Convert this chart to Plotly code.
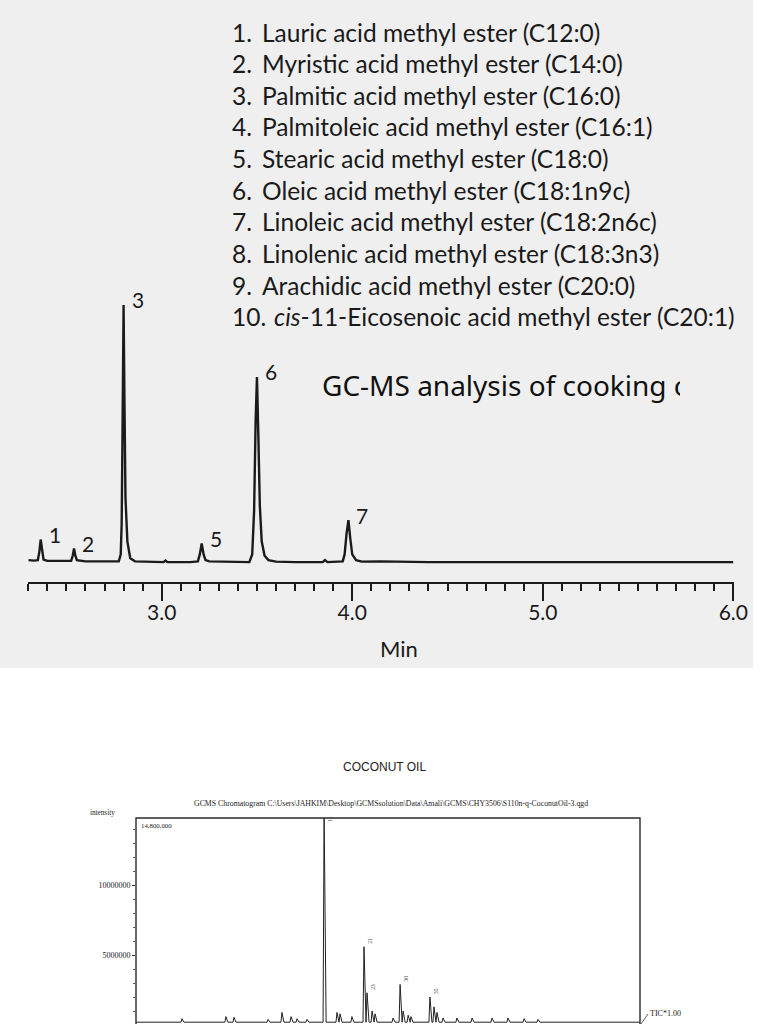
import plotly.graph_objects as go

W, H = 768, 1024
VIEW_W = 753  # width the page actually draws the figure at (window minus scrollbar)
def px(x): return x / VIEW_W
def py(y): return 1 - y / H

# ---------------- data: top chromatogram (FAME standard) ----------------
top_time = [2.300, 2.330, 2.350, 2.358, 2.365, 2.372, 2.380, 2.400, 2.500, 2.525, 2.533, 2.540,
            2.547, 2.555, 2.600, 2.760, 2.775, 2.785, 2.790, 2.795, 2.800, 2.805, 2.810, 2.820,
            2.835, 2.860, 2.950, 3.010, 3.020, 3.030, 3.150, 3.190, 3.200, 3.210, 3.220, 3.230,
            3.250, 3.400, 3.460, 3.475, 3.485, 3.493, 3.500, 3.507, 3.515, 3.525, 3.540, 3.560,
            3.600, 3.700, 3.845, 3.857, 3.870, 3.950, 3.960, 3.970, 3.980, 3.990, 4.000, 4.020,
            4.050, 4.150, 4.400, 5.000, 5.500, 6.000]
top_signal = [0.8, 0.6, 0.8, 4.0, 8.8, 4.0, 1.0, 0.5, 0.3, 0.5, 2.5, 5.3,
              2.5, 0.8, 0.3, 0.2, 0.3, 3.0, 15, 55, 100, 60, 25, 8.0,
              1.5, 0.3, 0.0, 0.0, 0.6, 0.0, 0.0, 0.3, 3.0, 7.3, 3.0, 0.8,
              0.3, 0.0, 0.0, 3.0, 20, 55, 72, 50, 22, 8.0, 2.5, 0.8,
              0.2, 0.0, 0.0, 0.8, 0.0, 0.3, 3.0, 11, 16.3, 9.0, 3.0, 0.8,
              0.2, 0.3, 0.0, 0.0, 0.0, 0.0]

peak_ids = ["1", "2", "3", "5", "6", "7"]
peak_rt = [2.365, 2.540, 2.800, 3.210, 3.500, 3.980]
peak_h = [8.8, 5.3, 100, 7.3, 72, 16.3]

compounds = [
    "Lauric acid methyl ester (C12:0)",
    "Myristic acid methyl ester (C14:0)",
    "Palmitic acid methyl ester (C16:0)",
    "Palmitoleic acid methyl ester (C16:1)",
    "Stearic acid methyl ester (C18:0)",
    "Oleic acid methyl ester (C18:1n9c)",
    "Linoleic acid methyl ester (C18:2n6c)",
    "Linolenic acid methyl ester (C18:3n3)",
    "Arachidic acid methyl ester (C20:0)",
    "<i>cis</i>-11-Eicosenoic acid methyl ester (C20:1)",
]

# ---------------- data: coconut oil TIC ----------------
coco_rt = [7.28, 9.46, 9.86, 11.55, 12.24, 12.69, 12.99, 13.48, 14.33, 14.97, 15.12, 15.71,
           16.31, 16.46, 16.71, 16.86, 17.75, 18.10, 18.25, 18.50, 18.64, 19.58, 19.78, 19.93,
           20.23, 20.92, 21.67, 22.66, 23.45, 24.25, 24.94]
coco_int = [0.45e6, 0.6e6, 0.55e6, 0.4e6, 0.9e6, 0.6e6, 0.45e6, 0.4e6, 15.5e6, 0.9e6, 0.8e6, 0.6e6,
            5.6e6, 2.3e6, 1.0e6, 0.8e6, 0.5e6, 2.9e6, 1.0e6, 0.7e6, 0.6e6, 2.0e6, 1.3e6, 0.9e6,
            0.5e6, 0.5e6, 0.5e6, 0.5e6, 0.5e6, 0.45e6, 0.4e6]
coco_base = 0.2e6
coco_label_rt = [14.33, 16.31, 16.46, 18.10, 19.58]
coco_label_txt = ["12", "21", "23", "30", "35"]
coco_label_h = [14.3e6, 5.6e6, 2.3e6, 2.9e6, 2.0e6]

FONT = "Lato"
SERIF = "Liberation Serif"
INK = "#1b1b1b"
BG = "#efefef"

fig = go.Figure()

fig.add_trace(go.Scatter(x=top_time, y=top_signal, mode="lines",
                         line=dict(color=INK, width=2.4), xaxis="x", yaxis="y",
                         hoverinfo="skip", showlegend=False))

wl, wr = 0.05, 0.10
cx, cy = [5.0], [coco_base]
for t, h in zip(coco_rt, coco_int):
    cx += [t - wl, t, t + wr]
    cy += [coco_base, h, coco_base]
cx.append(30.0); cy.append(coco_base)
fig.add_trace(go.Scatter(x=cx, y=cy, mode="lines", line=dict(color="#222", width=1),
                         xaxis="x2", yaxis="y2", hoverinfo="skip", showlegend=False))

fig.add_trace(go.Scatter(x=[0.0], y=[0.5], mode="text",
                         text=["GC-MS analysis of cooking oil"], textposition="middle right",
                         textfont=dict(family="Noto Sans", size=28, color="#111"),
                         cliponaxis=False, xaxis="x3", yaxis="y3",
                         hoverinfo="skip", showlegend=False))

annotations = []
LEG = dict(family=FONT, size=24.5, color="#1a1a1a")
for i, name in enumerate(compounds):
    yc = 32 + 31.65 * i
    annotations.append(dict(x=px(230), y=py(yc), xref="paper", yref="paper", text=f"{i+1}.",
                            showarrow=False, xanchor="left", yanchor="middle", font=LEG))
    annotations.append(dict(x=px(260 if i < 9 else 272), y=py(yc), xref="paper", yref="paper",
                            text=name, showarrow=False, xanchor="left", yanchor="middle", font=LEG))
for pid, t, h in zip(peak_ids, peak_rt, peak_h):
    annotations.append(dict(x=t, y=h, xref="x", yref="y", text=pid, showarrow=False,
                            xanchor="left", yanchor="middle", xshift=6, yshift=5,
                            font=dict(family=FONT, size=21, color="#1a1a1a")))
annotations.append(dict(x=px(399), y=py(648), xref="paper", yref="paper", text="Min",
                        showarrow=False, xanchor="center", yanchor="middle",
                        font=dict(family=FONT, size=22, color="#1a1a1a")))

annotations.append(dict(x=px(384), y=py(767), xref="paper", yref="paper", text="COCONUT OIL",
                        showarrow=False, xanchor="center", yanchor="middle",
                        font=dict(family="Liberation Sans", size=12, color="#222")))
annotations.append(dict(x=px(391), y=py(803), xref="paper", yref="paper",
                        text="GCMS Chromatogram C:\\Users\\JAHKIM\\Desktop\\GCMSsolution\\Data\\Amali\\GCMS\\CHY3506\\S110n-q-CoconutOil-3.qgd",
                        showarrow=False, xanchor="center", yanchor="middle",
                        font=dict(family=SERIF, size=7.8, color="#222")))
annotations.append(dict(x=px(88), y=py(813), xref="paper", yref="paper", text="intensity",
                        showarrow=False, xanchor="left", yanchor="middle",
                        font=dict(family=SERIF, size=7.2, color="#222")))
annotations.append(dict(x=px(139), y=py(825), xref="paper", yref="paper", text="14,800,000",
                        showarrow=False, xanchor="left", yanchor="middle",
                        font=dict(family=SERIF, size=6.8, color="#222")))
annotations.append(dict(x=px(648), y=py(1013), xref="paper", yref="paper", text="TIC*1.00",
                        showarrow=False, xanchor="left", yanchor="middle",
                        font=dict(family=SERIF, size=8, color="#222")))
for t, s, h in zip(coco_label_rt, coco_label_txt, coco_label_h):
    annotations.append(dict(x=t, y=h, xref="x2", yref="y2", text=s, showarrow=False, textangle=-90,
                            xanchor="left", yanchor="bottom", xshift=1, yshift=1,
                            font=dict(family=SERIF, size=5.5, color="#444")))

shapes = [
    dict(type="rect", xref="paper", yref="paper", x0=0, x1=1.0, y0=py(668), y1=1,
         fillcolor=BG, line=dict(width=0), layer="below"),
    # the source image cuts the subtitle at this edge
    dict(type="rect", xref="paper", yref="paper", x0=px(680), x1=1.0, y0=py(408), y1=py(366),
         fillcolor=BG, line=dict(width=0), layer="above"),
    dict(type="rect", xref="paper", yref="paper", x0=px(136), x1=px(640), y0=-0.02, y1=py(818),
         line=dict(color="#2a2a2a", width=1.4), fillcolor="rgba(0,0,0,0)", layer="above"),
    dict(type="line", xref="paper", yref="paper", x0=px(641), y0=py(1024), x1=px(648), y1=py(1014),
         line=dict(color="#333", width=0.8)),
]

fig.update_layout(
    width=W, height=H, margin=dict(l=0, r=0, t=0, b=0),
    paper_bgcolor="white", plot_bgcolor="rgba(0,0,0,0)",
    showlegend=False,
    xaxis=dict(domain=[px(28.3), px(733.5)], range=[2.3, 6.0008], anchor="y",
               showline=True, linecolor=INK, linewidth=2, showgrid=False, zeroline=False,
               ticks="outside", ticklen=17, tickwidth=2, tickcolor=INK,
               tickmode="linear", tick0=3, dtick=1, tickformat=".1f", ticklabelstandoff=-6,
               tickfont=dict(family=FONT, size=21, color="#1a1a1a"),
               minor=dict(ticks="outside", ticklen=7, tickwidth=1.5, tickcolor=INK, dtick=0.1, tick0=3)),
    yaxis=dict(domain=[py(581.7), py(280)], range=[-7.6, 109.7], visible=False, anchor="x"),
    xaxis2=dict(domain=[px(136), px(640)], range=[5, 30], anchor="y2", visible=False),
    yaxis2=dict(domain=[0, py(818)], range=[71500, 14.8e6], anchor="x2",
                showline=False, showgrid=False, zeroline=False,
                ticks="outside", ticklen=3, tickwidth=0.8, tickcolor="#333",
                tickmode="linear", tick0=0, dtick=5e6, tickformat="d",
                tickfont=dict(family=SERIF, size=8, color="#222"),
                minor=dict(ticks="outside", ticklen=2, tickwidth=0.6, tickcolor="#555", dtick=1e6)),
    xaxis3=dict(domain=[px(322), px(680)], range=[0, 1], visible=False, anchor="y3"),
    yaxis3=dict(domain=[py(405), py(373)], range=[0, 1], visible=False, anchor="x3"),
    annotations=annotations, shapes=shapes,
)

fig.write_html("out.html", config={"responsive": False})
